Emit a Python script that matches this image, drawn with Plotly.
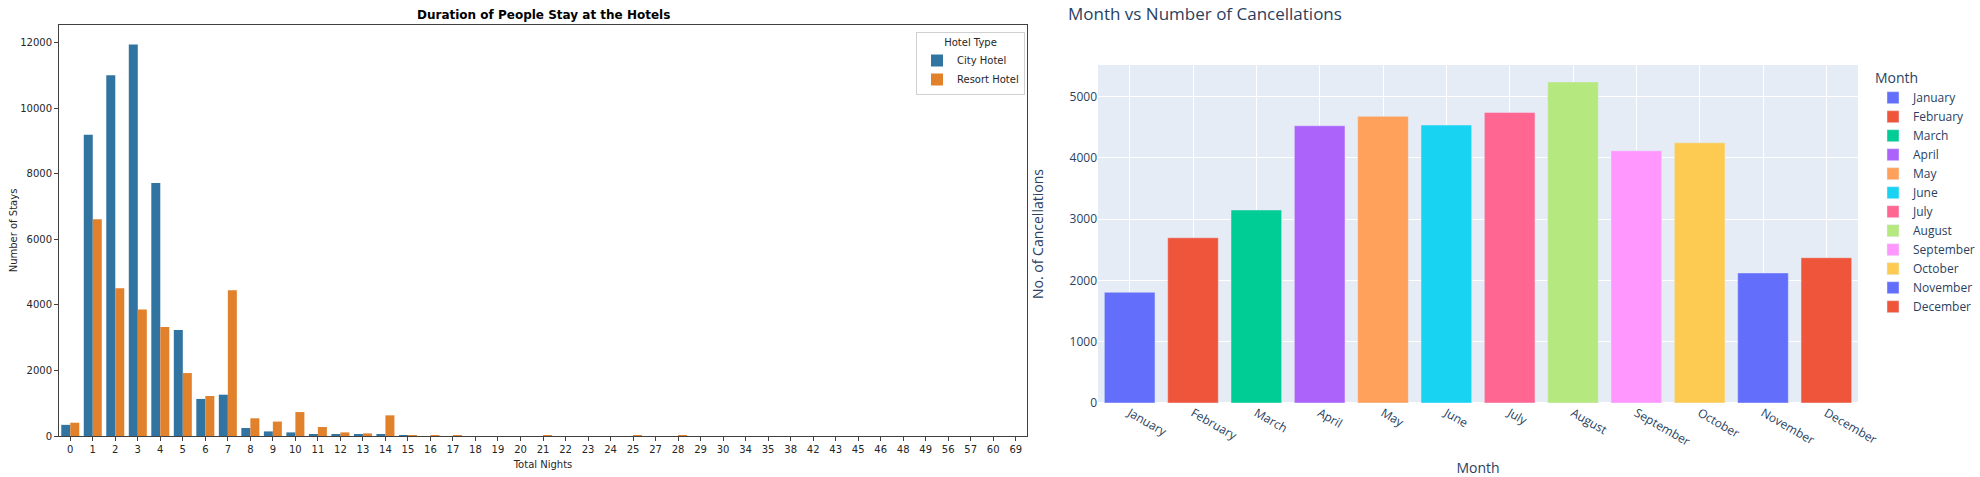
import plotly.graph_objects as go

# ---------------- Left chart data ----------------
total_nights = ["0", "1", "2", "3", "4", "5", "6", "7", "8", "9", "10", "11", "12", "13", "14",
                "15", "16", "17", "18", "19", "20", "21", "22", "23", "24", "25", "27", "28", "29",
                "30", "34", "35", "38", "42", "43", "45", "46", "48", "49", "56", "57", "60", "69"]
city_hotel = [340, 9190, 11000, 11940, 7720, 3230, 1130, 1260, 245, 140, 110, 40, 40, 35, 35,
              30, 0, 0, 0, 0, 0, 0, 0, 0, 0, 0, 0, 0, 0,
              0, 0, 0, 0, 0, 0, 0, 0, 0, 0, 0, 0, 0, 0]
resort_hotel = [405, 6610, 4505, 3855, 3325, 1920, 1220, 4445, 540, 440, 730, 275, 110, 80, 630,
                30, 20, 15, 0, 0, 0, 20, 0, 0, 0, 15, 0, 15, 0,
                0, 0, 0, 0, 0, 0, 0, 0, 0, 0, 0, 0, 0, 0]
left_yticks = [0, 2000, 4000, 6000, 8000, 10000, 12000]

# ---------------- Right chart data ----------------
months = ["January", "February", "March", "April", "May", "June", "July",
          "August", "September", "October", "November", "December"]
cancellations = [1807, 2696, 3149, 4524, 4677, 4535, 4742, 5239, 4116, 4246, 2122, 2371]
month_colors = ["#636efa", "#EF553B", "#00cc96", "#ab63fa", "#FFA15A", "#19d3f3",
                "#FF6692", "#B6E880", "#FF97FF", "#FECB52", "#636efa", "#EF553B"]

W, H = 1980, 477
def px_x(p):
    return p / W
def px_y(p):
    return 1 - p / H

fig = go.Figure()

fig.add_trace(go.Bar(x=total_nights, y=city_hotel, name="City Hotel",
                     marker=dict(color="#3274A1", line=dict(width=0)),
                     offsetgroup="city", alignmentgroup="hotel",
                     xaxis="x", yaxis="y", legend="legend"))
fig.add_trace(go.Bar(x=total_nights, y=resort_hotel, name="Resort Hotel",
                     marker=dict(color="#E1812C", line=dict(width=0)),
                     offsetgroup="resort", alignmentgroup="hotel",
                     xaxis="x", yaxis="y", legend="legend"))

for m, v, c in zip(months, cancellations, month_colors):
    fig.add_trace(go.Bar(x=[m], y=[v], name=m,
                         marker=dict(color=c, line=dict(width=0.5, color="#E5ECF6")),
                         offsetgroup="month", alignmentgroup="month",
                         xaxis="x2", yaxis="y2", legend="legend2"))

dark = "#262626"
mpl_font = "DejaVu Sans"
ply_font = "Open Sans"
ply_col = "#2a3f5f"

fig.update_layout(
    width=W, height=H,
    margin=dict(l=0, r=0, t=0, b=0),
    paper_bgcolor="white", plot_bgcolor="white",
    barmode="group", bargap=0.2, bargroupgap=0,
    font=dict(family=ply_font, color=ply_col, size=12),
    xaxis=dict(domain=[px_x(59), px_x(1027)], anchor="y", type="category",
               categoryorder="array", categoryarray=total_nights,
               range=[-0.5, len(total_nights) - 0.5],
               showline=True, mirror=True, linecolor="#404040", linewidth=1,
               ticks="outside", ticklen=4, tickcolor="#404040",
               showgrid=False, zeroline=False,
               tickfont=dict(family=mpl_font, size=10, color=dark),
               title=dict(text="Total Nights", font=dict(family=mpl_font, size=10, color=dark),
                          standoff=6),
               automargin=False),
    yaxis=dict(domain=[px_y(436), px_y(25)], anchor="x",
               range=[0, 12536], tickvals=left_yticks, tickformat="d",
               showline=True, mirror=True, linecolor="#404040", linewidth=1,
               ticks="outside", ticklen=4, tickcolor="#404040",
               showgrid=False, zeroline=False,
               tickfont=dict(family=mpl_font, size=10, color=dark),
               title=dict(text="Number of Stays", font=dict(family=mpl_font, size=10, color=dark),
                          standoff=0),
               automargin=False),
    xaxis2=dict(domain=[px_x(1098), px_x(1858)], anchor="y2", type="category",
                categoryorder="array", categoryarray=months,
                tickangle=30, showgrid=True, gridcolor="white", zeroline=False,
                tickfont=dict(family=ply_font, size=12, color=ply_col),
                title=dict(text="Month", font=dict(family=ply_font, size=14, color=ply_col),
                           standoff=23),
                automargin=False),
    yaxis2=dict(domain=[px_y(403), px_y(65)], anchor="x2",
                range=[0, 5515], showgrid=True, gridcolor="white",
                zeroline=True, zerolinecolor="white", zerolinewidth=2,
                tickfont=dict(family=ply_font, size=12, color=ply_col),
                title=dict(text="No. of Cancellations", font=dict(family=ply_font, size=14, color=ply_col),
                           standoff=22),
                automargin=False),
    legend=dict(x=px_x(916), y=px_y(32), xanchor="left", yanchor="top",
                bgcolor="white", bordercolor="#d0d0d0", borderwidth=1,
                font=dict(family=mpl_font, size=10, color=dark),
                title=dict(text="Hotel Type", side="top center",
                           font=dict(family=mpl_font, size=10, color=dark)),
                itemsizing="constant", tracegroupgap=0),
    legend2=dict(x=px_x(1873), y=px_y(65), xanchor="left", yanchor="top",
                 bgcolor="rgba(0,0,0,0)", borderwidth=0,
                 font=dict(family=ply_font, size=12, color=ply_col),
                 title=dict(text="Month", font=dict(family=ply_font, size=14, color=ply_col)),
                 tracegroupgap=0),
    shapes=[dict(type="rect", xref="x2 domain", yref="y2 domain",
                 x0=0, x1=1, y0=0, y1=1, fillcolor="#E5ECF6",
                 line=dict(width=0), layer="below")],
    annotations=[
        dict(text="Duration of People Stay at the Hotels", xref="paper", yref="paper",
             x=px_x(543), y=px_y(15), xanchor="center", yanchor="middle", showarrow=False,
             font=dict(family=mpl_font, size=12, color="black", weight="bold")),
        dict(text="Month vs Number of Cancellations", xref="paper", yref="paper",
             x=px_x(1066), y=1, xanchor="left", yanchor="top", showarrow=False,
             font=dict(family=ply_font, size=17, color=ply_col)),
    ],
)

fig.write_html("out.html")
